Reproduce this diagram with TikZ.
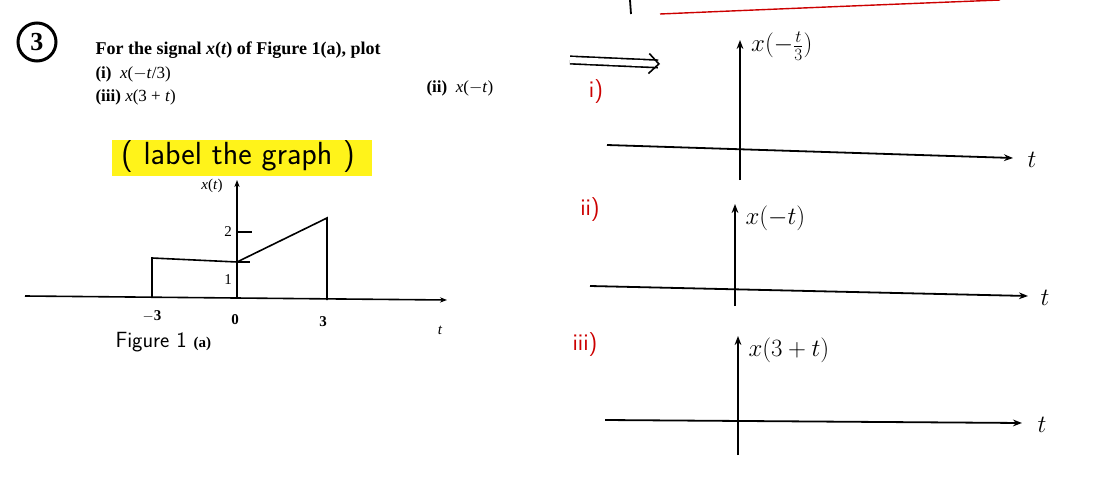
\documentclass[tikz,border=0pt]{standalone}
\usepackage{fontspec}
\setmainfont{Liberation Serif}
\usetikzlibrary{arrows.meta}
\newcommand{\fs}[1]{\fontsize{#1}{#1}\selectfont}
\begin{document}
\begin{tikzpicture}[x=1pt,y=-1pt,
  ax/.style={line width=1.8pt,-{Stealth[length=9pt]}},
  pl/.style={line width=1.6pt},
  hw/.style={font=\sffamily\fs{26}},
  red/.style={text=red!80!black,font=\sffamily\fs{24}}]
\useasboundingbox (0,0) rectangle (1119,479);
% header
\node[circle,draw,line width=3pt,minimum size=38pt,inner sep=0,font=\bfseries\fs{26}] (n3) at (37,42) {3};
\node[anchor=west,font=\bfseries\fs{18}] (q) at (92,50) {For the signal \textit{x}(\textit{t}) of Figure 1(a), plot};
\node[anchor=west,font=\fs{17}] (i1) at (92,74) {\textbf{(i)}\enspace \textit{x}($-$\textit{t}/3)};
\node[anchor=west,font=\fs{17}] (i3) at (92,97) {\textbf{(iii)} \textit{x}(3 + \textit{t})};
\node[anchor=west,font=\fs{17}] (i2) at (423,88) {\textbf{(ii)}\enspace \textit{x}($-$\textit{t})};
\fill[yellow!90] (112,140) rectangle (372,176);
\node[font=\sffamily\fs{32}] (lab) at (238,157) {(\,\,label the graph\,\,)};
% figure
\coordinate (hl) at (25,296); \coordinate (hr) at (447,300);
\draw[pl,-{Stealth[length=7pt]}] (hl) -- (hr);
\coordinate (vb) at (237,298); \coordinate (vt) at (237,180);
\draw[pl,-{Stealth[length=7pt]}] (vb) -- (vt);
\draw[pl] (237,232) -- (252,232);
\draw[pl] (152,297) -- (152,258) -- (237,262) -- (327,218) -- (327,300);
\draw[pl] (237,262) -- (250,262);
\node[font=\fs{15}] (xt) at (212,186) {\textit{x}(\textit{t})};
\node[font=\fs{15}] (l2) at (228,232) {2};
\node[font=\fs{15}] (l1) at (228,280) {1};
\node[font=\bfseries\fs{15}] (m3) at (152,316) {$-$3};
\node[font=\bfseries\fs{15}] (z0) at (235,320) {0};
\node[font=\bfseries\fs{15}] (p3) at (323,322) {3};
\node[font=\fs{15}] (tt) at (440,330) {\textit{t}};
\node[anchor=west,font=\sffamily\fs{22}] (fig) at (112,342) {Figure 1 {\rmfamily\bfseries\fs{15}(a)}};
% right side
\draw[red!80!black,line width=1.4pt] (660,14) .. controls (800,8) and (900,4) .. (1000,0);
\draw[line width=1.8pt] (630,0) -- (631,14);
\coordinate (da) at (570,60); \coordinate (db) at (660,64);
\draw[line width=1.6pt,double,double distance=6pt,-{Straight Barb[length=10pt]}] (da) -- (db);
\node[red] (r1) at (596,92) {i)};
\draw[ax] (740,180) -- (740,40);
\node[hw,anchor=west,inner sep=1pt] (x1) at (750,46) {$x(-{\textstyle\frac{t}{3}})$};
\draw[ax] (607,145) -- (1013,158);
\node[hw] (t1) at (1032,160) {$t$};
\node[red] (r2) at (590,210) {ii)};
\draw[ax] (735,306) -- (735,204);
\node[hw,anchor=west] (x2) at (742,218) {$x(-t)$};
\draw[ax] (590,286) -- (1028,296);
\node[hw] (t2) at (1045,298) {$t$};
\node[red] (r3) at (585,345) {iii)};
\draw[ax] (738,455) -- (738,336);
\node[hw,anchor=west] (x3) at (745,350) {$x(3+t)$};
\draw[ax] (605,420) -- (1022,423);
\node[hw] (t3) at (1042,425) {$t$};
\end{tikzpicture}
\end{document}
